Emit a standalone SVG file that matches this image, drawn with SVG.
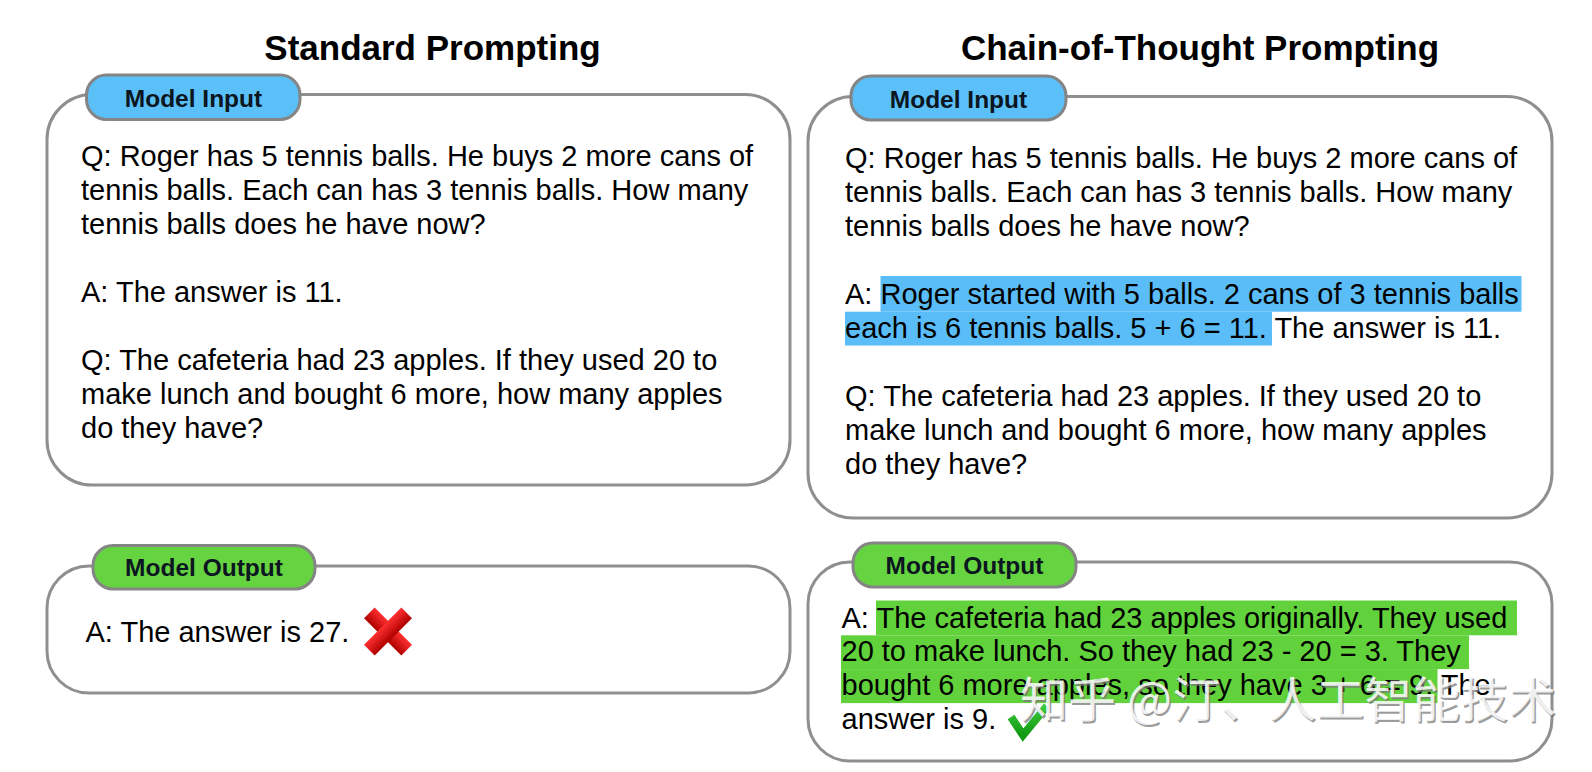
<svg xmlns="http://www.w3.org/2000/svg" width="1592" height="772" viewBox="0 0 1592 772">
<defs>
<style>
.box{fill:#ffffff;stroke:#8f8f8f;stroke-width:3}
.pin{fill:#5bbff8;stroke:#858585;stroke-width:3}
.pout{fill:#66d340;stroke:#858585;stroke-width:3}
.title{font-family:"Liberation Sans",Arial,Helvetica,sans-serif;font-weight:bold;font-size:35px;text-anchor:middle;fill:#000}
.pt{font-family:"Liberation Sans",Arial,Helvetica,sans-serif;font-weight:bold;font-size:24.5px;text-anchor:middle;fill:#0b1620}
.t{font-family:"Liberation Sans",Arial,Helvetica,sans-serif;font-size:29px;fill:#000}
.hb{fill:#5bbdf7}
.hg{fill:#62d23c}
.wm{font-family:"Noto Sans CJK SC","Noto Sans",sans-serif;font-size:48px}
</style>
<linearGradient id="redg" x1="0" y1="0" x2="0" y2="1">
<stop offset="0" stop-color="#ff3030"/>
<stop offset="1" stop-color="#b00000"/>
</linearGradient>
<linearGradient id="greeng" x1="0" y1="0" x2="0" y2="1">
<stop offset="0" stop-color="#3cc83c"/>
<stop offset="1" stop-color="#119a11"/>
</linearGradient>
</defs>
<rect width="1592" height="772" fill="#ffffff"/>

<g id="titles">
<text class="title" x="432.5" y="60">Standard Prompting</text>
<text class="title" x="1200" y="60">Chain-of-Thought Prompting</text>
</g>

<g id="std-input">
<rect class="box" x="47" y="94.5" width="743" height="390.5" rx="45"/>
<rect class="pin" x="86.5" y="75" width="213.5" height="44.5" rx="20"/>
<text class="pt" x="193.5" y="106.5">Model Input</text>
<text class="t" x="81" y="165.7">Q: Roger has 5 tennis balls. He buys 2 more cans of</text>
<text class="t" x="81" y="199.7">tennis balls. Each can has 3 tennis balls. How many</text>
<text class="t" x="81" y="233.7">tennis balls does he have now?</text>
<text class="t" x="81" y="301.7">A: The answer is 11.</text>
<text class="t" x="81" y="369.7">Q: The cafeteria had 23 apples. If they used 20 to</text>
<text class="t" x="81" y="403.7">make lunch and bought 6 more, how many apples</text>
<text class="t" x="81" y="437.7">do they have?</text>
</g>

<g id="std-output">
<rect class="box" x="47" y="566" width="743" height="127" rx="42"/>
<rect class="pout" x="93" y="545.5" width="222" height="43.5" rx="20"/>
<text class="pt" x="204" y="576">Model Output</text>
<text class="t" x="85.5" y="641.7">A: The answer is 27.</text>
<g transform="translate(388,631.5)" fill="url(#redg)">
<rect x="-26.4" y="-7.5" width="52.8" height="15" transform="rotate(45)"/>
<rect x="-26.4" y="-7.5" width="52.8" height="15" transform="rotate(-45)"/>
</g>
</g>

<g id="cot-input">
<rect class="box" x="808" y="96.5" width="744" height="421.5" rx="45"/>
<rect class="pin" x="851" y="76" width="215" height="44" rx="20"/>
<text class="pt" x="958.5" y="107.5">Model Input</text>
<rect class="hb" x="880.5" y="276" width="641" height="35.7"/>
<rect class="hb" x="845" y="311.7" width="427" height="33.8"/>
<text class="t" x="845" y="167.8">Q: Roger has 5 tennis balls. He buys 2 more cans of</text>
<text class="t" x="845" y="201.8">tennis balls. Each can has 3 tennis balls. How many</text>
<text class="t" x="845" y="235.8">tennis balls does he have now?</text>
<text class="t" x="845" y="303.8">A: Roger started with 5 balls. 2 cans of 3 tennis balls</text>
<text class="t" x="845" y="337.8">each is 6 tennis balls. 5 + 6 = 11. The answer is 11.</text>
<text class="t" x="845" y="405.8">Q: The cafeteria had 23 apples. If they used 20 to</text>
<text class="t" x="845" y="439.8">make lunch and bought 6 more, how many apples</text>
<text class="t" x="845" y="473.8">do they have?</text>
</g>

<g id="cot-output">
<rect class="box" x="808" y="562" width="744" height="199" rx="42"/>
<rect class="pout" x="853" y="543" width="223" height="44" rx="20"/>
<text class="pt" x="964.5" y="573.5">Model Output</text>
<rect class="hg" x="876" y="600.5" width="641" height="34.8"/>
<rect class="hg" x="841" y="635.3" width="628" height="33.8"/>
<rect class="hg" x="841" y="669.1" width="596.5" height="34"/>
<text class="t" x="841.5" y="627.5">A: The cafeteria had 23 apples originally. They used</text>
<text class="t" x="841.5" y="661.3">20 to make lunch. So they had 23 - 20 = 3. They</text>
<text class="t" x="841.5" y="695">bought 6 more apples, so they have 3 + 6 = 9. The</text>
<text class="t" x="841.5" y="728.7">answer is 9.</text>
<path d="M1011,717 L1023,735 L1047,706" fill="none" stroke="url(#greeng)" stroke-width="8"/>
</g>

<g id="watermark">
<text class="wm" x="1021.5" y="718.5" fill="#7a7a7a" fill-opacity="0.75">知乎 @汀、人工智能技术</text>
<text class="wm" x="1020" y="717" fill="#ffffff" fill-opacity="0.85">知乎 @汀、人工智能技术</text>
</g>
</svg>
